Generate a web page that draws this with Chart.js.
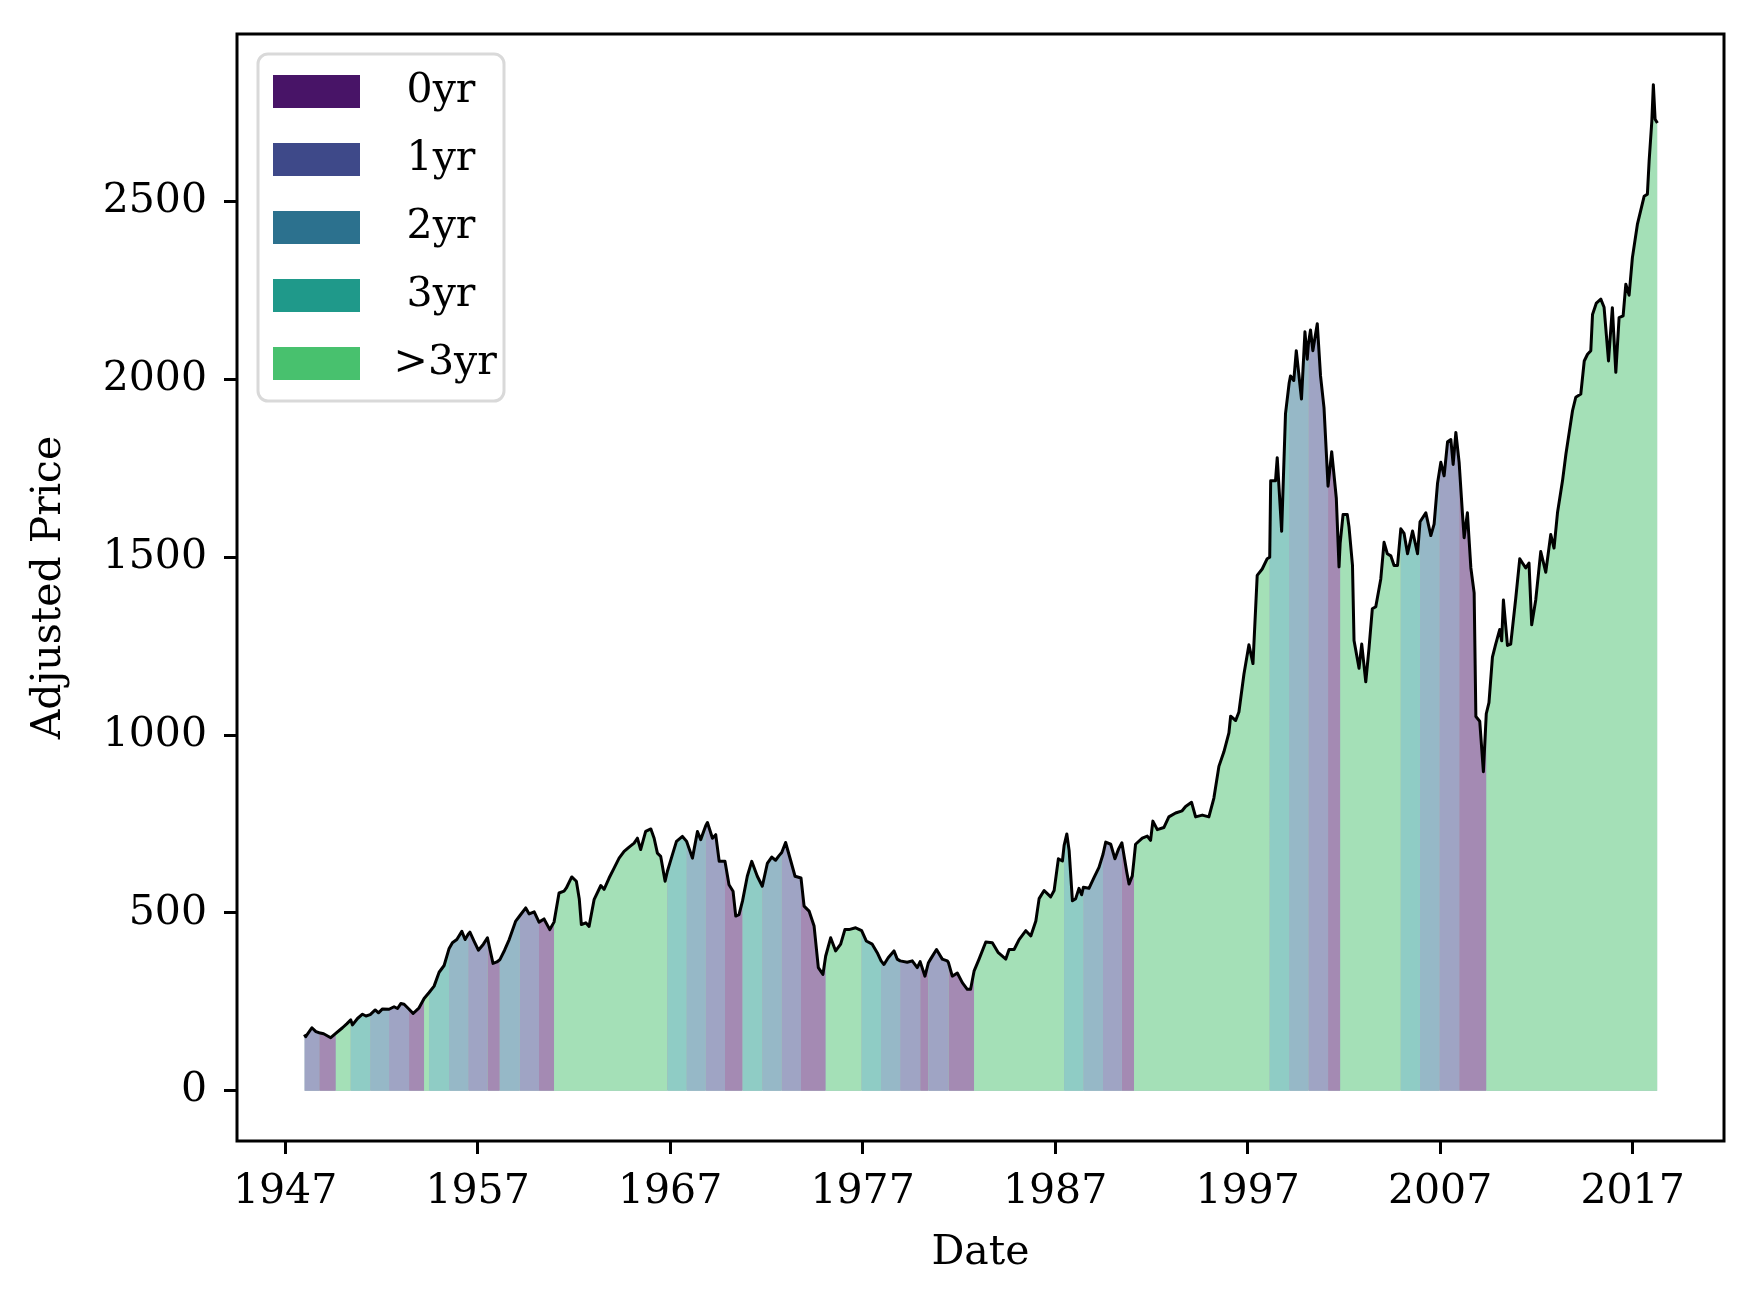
<!DOCTYPE html>
<html>
<head>
<meta charset="utf-8">
<script src="https://cdn.jsdelivr.net/npm/chart.js@4.4.1/dist/chart.umd.min.js"></script>
<style>
  html, body { margin: 0; padding: 0; background: #fff; }
  #wrap { width: 1758px; height: 1311px; }
</style>
</head>
<body>
<div id="wrap"><canvas id="chartContainer"></canvas></div>
<script>
const years = [
  1948.00, 1948.07, 1948.39, 1948.60, 1948.77, 1949.00, 1949.37, 1949.63, 1949.98, 1950.20, 1950.41, 1950.50, 1950.76,
  1951.02, 1951.20, 1951.42, 1951.68, 1951.85, 1952.06, 1952.40, 1952.66, 1952.84, 1953.01, 1953.18, 1953.44, 1953.65, 1953.96,
  1954.22, 1954.48, 1954.74, 1955.00, 1955.26, 1955.52, 1955.69, 1955.92, 1956.18, 1956.35, 1956.51, 1956.60, 1956.82, 1957.04, 1957.30, 1957.51, 1957.65, 1957.80,
  1958.00, 1958.15, 1958.40, 1958.64, 1958.98, 1959.19, 1959.50, 1959.68, 1959.94, 1960.19, 1960.45, 1960.75, 1960.97,
  1961.23, 1961.49, 1961.61, 1961.89, 1962.13, 1962.28, 1962.39, 1962.62, 1962.79, 1963.05, 1963.40, 1963.57, 1963.83,
  1964.09, 1964.35, 1964.61, 1964.87, 1965.13, 1965.30, 1965.47, 1965.73, 1966.00, 1966.17, 1966.34, 1966.51, 1966.74, 1966.86,
  1967.12, 1967.33, 1967.64, 1967.86, 1968.16, 1968.42, 1968.59, 1968.85, 1968.94, 1969.20, 1969.37, 1969.55, 1969.85,
  1970.06, 1970.27, 1970.41, 1970.58, 1970.76, 1971.01, 1971.24, 1971.53, 1971.79, 1972.05, 1972.28, 1972.48, 1972.66, 1972.80,
  1973.00, 1973.26, 1973.49, 1973.80, 1973.96, 1974.22, 1974.48, 1974.70, 1974.94, 1975.08, 1975.34, 1975.60, 1975.86,
  1976.08, 1976.29, 1976.64, 1976.95, 1977.19, 1977.50, 1977.76, 1977.96, 1978.11, 1978.33, 1978.63, 1978.80, 1978.95, 1979.32, 1979.58, 1979.84, 1979.99,
  1980.24, 1980.42, 1980.53, 1980.84, 1981.14, 1981.40, 1981.46, 1981.66, 1981.92, 1982.18, 1982.44, 1982.61, 1982.79,
  1983.05, 1983.40, 1983.74, 1984.05, 1984.44, 1984.61, 1984.87, 1985.13, 1985.48, 1985.74, 1986.00, 1986.17, 1986.43, 1986.77, 1986.95,
  1987.17, 1987.38, 1987.47, 1987.61, 1987.73, 1987.90, 1988.07, 1988.24, 1988.38, 1988.47, 1988.76, 1989.02, 1989.28, 1989.49, 1989.63, 1989.89,
  1990.11, 1990.30, 1990.47, 1990.72, 1990.84, 1991.01, 1991.10, 1991.18, 1991.53, 1991.79, 1991.96, 1992.08, 1992.31, 1992.65, 1992.91,
  1993.26, 1993.60, 1993.78, 1994.09, 1994.30, 1994.65, 1994.99, 1995.25, 1995.51, 1995.77, 1996.03, 1996.12, 1996.38, 1996.55, 1996.81,
  1997.07, 1997.28, 1997.50, 1997.76, 1998.02, 1998.15, 1998.20, 1998.45, 1998.54, 1998.77, 1998.97, 1999.16, 1999.23, 1999.40, 1999.53, 1999.80, 1999.98,
  2000.10, 2000.16, 2000.27, 2000.39, 2000.62, 2000.79, 2000.97, 2001.18, 2001.37, 2001.61, 2001.75, 2001.81, 2001.96, 2002.18, 2002.27, 2002.45, 2002.53, 2002.79, 2002.93,
  2003.14, 2003.31, 2003.48, 2003.66, 2003.92, 2004.09, 2004.26, 2004.44, 2004.61, 2004.79, 2004.96, 2005.13, 2005.31, 2005.57, 2005.83, 2005.96,
  2006.26, 2006.52, 2006.69, 2006.87, 2006.96, 2007.04, 2007.21, 2007.39, 2007.56, 2007.68, 2007.82, 2007.99, 2008.16, 2008.25, 2008.42, 2008.60, 2008.77, 2008.86,
  2009.06, 2009.25, 2009.40, 2009.54, 2009.72, 2009.89, 2010.10, 2010.20, 2010.29, 2010.50, 2010.67, 2010.93, 2011.14, 2011.28, 2011.45, 2011.62, 2011.76, 2011.97,
  2012.23, 2012.49, 2012.75, 2012.92, 2013.10, 2013.36, 2013.54, 2013.88, 2014.05, 2014.31, 2014.49, 2014.66, 2014.83, 2014.92,
  2015.12, 2015.35, 2015.52, 2015.75, 2015.95, 2016.13, 2016.30, 2016.51, 2016.65, 2016.82, 2016.99, 2017.25, 2017.60, 2017.77, 2017.86, 2018.00, 2018.08, 2018.17, 2018.29
];
const price = [
  158, 152, 177, 166, 163, 160, 149, 161, 177, 188, 199, 185, 203,
  215, 210, 214, 227, 219, 230, 229, 236, 231, 245, 243, 229, 217, 233,
  259, 276, 294, 333, 352, 400, 416, 425, 448, 425, 440, 446, 420, 395, 412, 430, 395, 358,
  362, 368, 395, 425, 477, 492, 514, 497, 503, 474, 483, 453, 474,
  556, 561, 570, 601, 589, 540, 467, 472, 462, 537, 577, 566, 598,
  626, 654, 673, 685, 696, 710, 678, 729, 736, 710, 668, 659, 589, 617,
  664, 701, 715, 701, 654, 729, 706, 745, 754, 710, 720, 645, 645,
  579, 561, 491, 495, 533, 603, 645, 603, 575, 639, 657, 648, 661, 670,
  698, 648, 603, 598, 519, 505, 463, 346, 327, 378, 430, 393, 412,
  453, 453, 458, 450, 421, 412, 388, 365, 355, 374, 393, 370, 365, 361, 365, 346, 363,
  322, 360, 370, 397, 370, 365, 360, 322, 331, 304, 285, 285, 336,
  370, 418, 416, 388, 370, 397, 397, 425, 450, 435, 477, 540, 563, 545, 563,
  652, 646, 690, 722, 675, 534, 540, 569, 551, 572, 569, 599, 628, 665, 699, 693,
  652, 680, 697, 616, 581, 604, 650, 693, 710, 716, 704, 758, 734, 740, 770,
  781, 787, 799, 811, 770, 775, 770, 823, 912, 953, 1006, 1053, 1041, 1065, 1171,
  1254, 1201, 1449, 1467, 1496, 1500, 1715, 1715, 1780, 1573, 1904, 1990, 2010, 1997, 2081, 1945, 2134,
  2057, 2100, 2139, 2081, 2157, 2010, 1921, 1700, 1797, 1666, 1473, 1540, 1620, 1620, 1585, 1477, 1266, 1188, 1256,
  1150, 1245, 1355, 1361, 1439, 1542, 1510, 1504, 1477, 1477, 1580, 1567, 1510, 1574, 1510, 1600,
  1625, 1561, 1593, 1709, 1740, 1767, 1729, 1825, 1831, 1761, 1851, 1767, 1625, 1555, 1625, 1470, 1400, 1052,
  1039, 897, 1060, 1091, 1219, 1256, 1297, 1265, 1380, 1252, 1256, 1384, 1496, 1484, 1470, 1484, 1310, 1380,
  1516, 1458, 1564, 1526, 1625, 1715, 1791, 1912, 1950, 1959, 2052, 2071, 2081, 2183,
  2215, 2226, 2203, 2052, 2202, 2020, 2174, 2179, 2268, 2237, 2342, 2436, 2515, 2521, 2614, 2726, 2829, 2732, 2721
];

// shaded periods: start year and class (0 = 0yr ... 4 = >3yr)
const bandStart = [
  1948.00, 1948.77, 1949.63, 1950.41, 1951.42, 1952.40, 1953.44, 1954.22, 1954.48, 1955.52, 1956.51, 1957.51, 1958.15, 1959.19, 1960.19, 1960.97,
  1966.86, 1967.86, 1968.85, 1969.85, 1970.76, 1971.79, 1972.80, 1973.80,
  1975.08, 1976.95, 1977.96, 1978.95, 1979.99, 1980.42, 1981.46, 1982.79,
  1987.47, 1988.47, 1989.49, 1990.47, 1991.10,
  1998.15, 1999.16, 2000.16, 2001.18, 2001.81,
  2004.96, 2005.96, 2006.96, 2007.99, 2009.40
];
const bandCat = [
  1, 0, 4, 3, 2, 1, 0, 4, 3, 2, 1, 0, 2, 1, 0, 4,
  3, 2, 1, 0, 3, 2, 1, 0,
  4, 3, 2, 1, 0, 1, 0, 4,
  3, 2, 1, 0, 4,
  3, 2, 1, 0, 4,
  3, 2, 1, 0, 4
];

const catLabels = ['  0yr', '  1yr', '  2yr', '  3yr', ' >3yr'];
const catColors = ['#481467', '#3e4989', '#2c718e', '#1f998a', '#48c16e'];
const xTicks = [1947, 1957, 1967, 1977, 1987, 1997, 2007, 2017];
const yTicks = [0, 500, 1000, 1500, 2000, 2500];

// colour at half strength over white, kept opaque so the band edges meet cleanly
function fade(hex) {
  const n = parseInt(hex.slice(1), 16);
  const mix = v => Math.round((v + 255) / 2);
  return `rgb(${mix(n >> 16)}, ${mix((n >> 8) & 255)}, ${mix(n & 255)})`;
}

function bandAt(t) {
  let k = 0;
  while (k + 1 < bandStart.length && bandStart[k + 1] <= t) k++;
  return bandCat[k];
}

// class of each stretch between two readings
const segCat = years.slice(1).map((t, i) => bandAt((t + years[i]) / 2));

function bandData(c) {
  return years.map((t, i) => ({
    x: t,
    y: (segCat[i - 1] === c || segCat[i] === c) ? price[i] : null
  }));
}

const points = years.map((t, i) => ({x: t, y: price[i]}));

const datasets = [{
  label: 'Adjusted Price',
  data: points,
  borderColor: '#000',
  borderWidth: 3,
  borderJoinStyle: 'round',
  pointRadius: 0,
  fill: false,
  tension: 0,
  order: 0
}].concat(catLabels.map((lab, c) => ({
  label: lab,
  data: bandData(c),
  borderWidth: 0,
  borderColor: 'rgba(0,0,0,0)',
  backgroundColor: fade(catColors[c]),
  pointRadius: 0,
  fill: 'origin',
  spanGaps: false,
  order: 1
}))).concat([{
  // plain underlay so no white shows between neighbouring bands
  label: 'under',
  data: points,
  borderWidth: 0,
  borderColor: 'rgba(0,0,0,0)',
  backgroundColor: '#9fbcbc',
  pointRadius: 0,
  fill: 'origin',
  order: 2
}]);

const frame = {
  id: 'frame',
  afterLayout(chart) {
    // put the legend in the upper left of the plot
    const a = chart.chartArea, lg = chart.legend;
    lg.left = a.left + 9;
    lg.top = a.top + 10;
    lg.right = a.right;
    lg.bottom = a.bottom;
  },
  beforeDraw(chart) {
    const a = chart.chartArea, ctx = chart.ctx;
    ctx.save();
    ctx.beginPath();
    ctx.roundRect(a.left + 21, a.top + 20, 246, 347, 10);
    ctx.fillStyle = '#fff';
    ctx.fill();
    ctx.lineWidth = 3;
    ctx.strokeStyle = '#d9d9d9';
    ctx.stroke();
    ctx.restore();
  },
  afterDraw(chart) {
    const a = chart.chartArea, ctx = chart.ctx;
    ctx.save();
    ctx.lineWidth = 3;
    ctx.strokeStyle = '#000';
    ctx.strokeRect(a.left, a.top, a.right - a.left, a.bottom - a.top);
    ctx.restore();
  }
};

Chart.defaults.font.family = "'DejaVu Serif', serif";
Chart.defaults.font.size = 41;
Chart.defaults.color = '#000';

const tickGrid = {
  drawOnChartArea: false, drawTicks: true,
  tickLength: 13, tickWidth: 3, tickColor: '#000', lineWidth: 3
};

const ctx = document.getElementById('chartContainer').getContext('2d');
new Chart(ctx, {
  type: 'line',
  data: { datasets: datasets },
  plugins: [frame],
  options: {
    responsive: true,
    maintainAspectRatio: false,
    animation: false,
    layout: { padding: { top: 34, right: 34, left: 0, bottom: 0 } },
    plugins: {
      tooltip: { enabled: false },
      legend: {
        position: 'chartArea',
        align: 'start',
        labels: {
          boxWidth: 87,
          boxHeight: 33,
          padding: 27,
          font: { size: 41 },
          generateLabels: () => catLabels.map((t, i) => ({
            text: t,
            fillStyle: catColors[i],
            strokeStyle: catColors[i],
            lineWidth: 0,
            fontColor: '#000',
            hidden: false,
            datasetIndex: i + 1
          }))
        }
      }
    },
    scales: {
      x: {
        type: 'linear',
        min: 1944.5,
        max: 2021.75,
        afterBuildTicks: s => { s.ticks = xTicks.map(v => ({value: v})); },
        afterFit: s => { s.height = 170; },
        grid: tickGrid,
        border: { display: false },
        ticks: { autoSkip: false, maxRotation: 0, padding: 14, callback: v => String(v) },
        title: { display: true, text: 'Date', padding: { top: 0, bottom: 33 } }
      },
      y: {
        type: 'linear',
        min: -141.5,
        max: 2971.5,
        afterBuildTicks: s => { s.ticks = yTicks.map(v => ({value: v})); },
        afterFit: s => { s.width = 237; s.paddingTop = 0; s.paddingBottom = 0; },
        grid: tickGrid,
        border: { display: false },
        ticks: { padding: 17, callback: v => String(v) },
        title: { display: true, text: 'Adjusted Price', padding: { top: 25, bottom: 0 } }
      }
    }
  }
});
</script>
</body>
</html>
